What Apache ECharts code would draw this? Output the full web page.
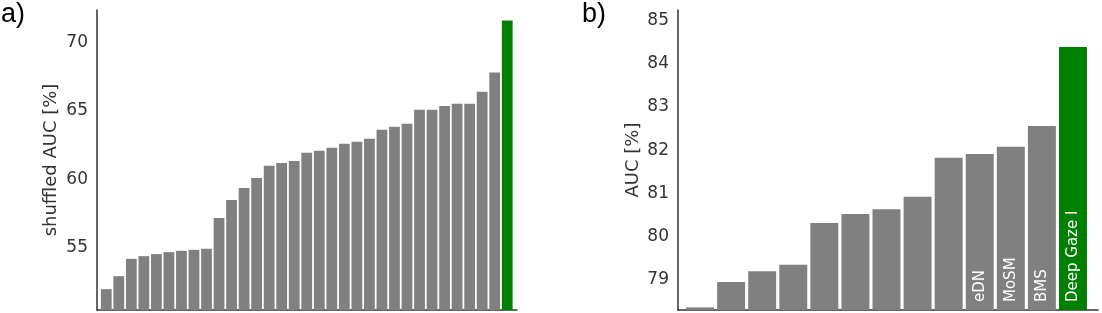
<!DOCTYPE html>
<html>
<head>
<meta charset="utf-8">
<script src="https://cdn.jsdelivr.net/npm/echarts@6/dist/echarts.min.js"></script>
<style>
html,body{margin:0;padding:0;background:#fff;}
#c{width:1102px;height:313px;}
</style>
</head>
<body>
<div id="c"></div>
<script>
// ---- data ----
const leftCategories = ['1','2','3','4','5','6','7','8','9','10','11','12','13','14','15','16','17','18','19','20','21','22','23','24','25','26','27','28','29','30','31','32','Deep Gaze I'];
const leftValues = [51.93,52.88,54.15,54.35,54.5,54.64,54.74,54.81,54.89,57.14,58.46,59.34,60.08,60.98,61.18,61.33,61.93,62.08,62.3,62.6,62.74,62.96,63.62,63.84,64.06,65.09,65.09,65.36,65.53,65.53,66.41,67.81,71.63];
const rightCategories = ['m1','m2','m3','m4','m5','m6','m7','m8','m9','eDN','MoSM','BMS','Deep Gaze I'];
const rightLabels = ['','','','','','','','','','eDN','MoSM','BMS','Deep Gaze I'];
const rightValues = [78.35,78.94,79.19,79.34,80.31,80.52,80.63,80.92,81.82,81.91,82.08,82.56,84.39];
const leftAxisName = 'shuffled AUC [%]';
const rightAxisName = 'AUC [%]';
const panelLabels = ['a)','b)'];

const GRAY = '#808080', GREEN = '#008000', TXT = '#333';
const FONT = 'DejaVu Sans';

function colorFn(n){ return p => p.dataIndex === n-1 ? GREEN : GRAY; }

const chart = echarts.init(document.getElementById('c'), null, {renderer:'canvas'});
const frameAxis = {
  type:'value', min:0, max:1, axisLine:{show:true, lineStyle:{color:TXT,width:1.5}},
  axisTick:{show:false}, axisLabel:{show:false}, splitLine:{show:false}
};
const hiddenY = {type:'value', show:false, splitLine:{show:false}};

chart.setOption({
  animation:false,
  backgroundColor:'#fff',
  title:[
    {text:panelLabels[0], left:1, top:1, padding:0, textStyle:{fontFamily:'Liberation Sans', fontSize:27, fontWeight:'normal', color:'#000'}},
    {text:panelLabels[1], left:582, top:1, padding:0, textStyle:{fontFamily:'Liberation Sans', fontSize:27, fontWeight:'normal', color:'#000'}}
  ],
  grid:[
    {left:100, top:10, width:413.5, height:300},
    {left:684.5, top:10, width:404, height:300},
    {left:97, top:10, width:420, height:300},
    {left:678, top:10, width:420, height:300}
  ],
  xAxis:[
    {gridIndex:0, type:'category', data:leftCategories, axisLine:{show:false}, axisTick:{show:false}, axisLabel:{show:false}},
    {gridIndex:1, type:'category', data:rightCategories, axisLine:{show:false}, axisTick:{show:false}, axisLabel:{show:false}},
    Object.assign({gridIndex:2}, frameAxis),
    Object.assign({gridIndex:3}, frameAxis)
  ],
  yAxis:[
    {gridIndex:0, type:'value', min:50.4, max:72.4, offset:3,
     name:leftAxisName, nameLocation:'middle', nameRotate:90, nameGap:37,
     nameTextStyle:{fontFamily:FONT, fontSize:18, color:TXT},
     axisLine:{show:true, lineStyle:{color:TXT,width:1.5}}, axisTick:{show:false}, splitLine:{show:false},
     axisLabel:{fontFamily:FONT, fontSize:17, color:TXT, margin:9,
       formatter:v => Math.abs(v/5 - Math.round(v/5)) < 1e-6 ? String(Math.round(v)) : ''}},
    {gridIndex:1, type:'value', min:78.29, max:85.25, offset:6.5,
     name:rightAxisName, nameLocation:'middle', nameRotate:90, nameGap:36,
     nameTextStyle:{fontFamily:FONT, fontSize:18, color:TXT},
     axisLine:{show:true, lineStyle:{color:TXT,width:1.5}}, axisTick:{show:false}, splitLine:{show:false},
     axisLabel:{fontFamily:FONT, fontSize:17, color:TXT, margin:9,
       formatter:v => Math.abs(v - Math.round(v)) < 1e-6 ? String(Math.round(v)) : ''}},
    Object.assign({gridIndex:2}, hiddenY),
    Object.assign({gridIndex:3}, hiddenY)
  ],
  series:[
    {type:'bar', xAxisIndex:0, yAxisIndex:0, data:leftValues, barCategoryGap:'14%',
     itemStyle:{color:colorFn(leftValues.length)}},
    {type:'bar', xAxisIndex:1, yAxisIndex:1, data:rightValues, barCategoryGap:'10%',
     itemStyle:{color:colorFn(rightValues.length)},
     label:{show:true, position:'insideBottom', distance:8, rotate:90, align:'left', verticalAlign:'middle',
       color:'#fff', fontFamily:FONT, fontSize:15,
       formatter:p => rightLabels[p.dataIndex]}}
  ]
});
</script>
</body>
</html>
